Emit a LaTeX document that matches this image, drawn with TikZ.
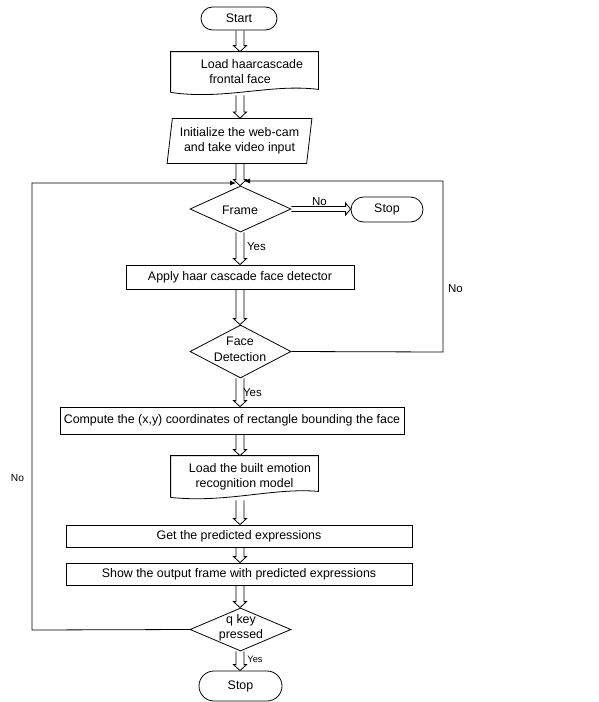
\documentclass[tikz,border=0pt]{standalone}
\usepackage{fontspec}
\setmainfont{Liberation Sans}
\usetikzlibrary{shapes.geometric,shapes.misc,calc,arrows.meta}

\begin{document}
\begin{tikzpicture}[x=1pt,y=-1pt,line width=0.8pt,
    font=\fontsize{12.4}{15}\selectfont,
    term/.style={rounded rectangle,draw,minimum height=23pt,inner sep=0pt},
    proc/.style={rectangle,draw,inner sep=0pt},
    doc/.style={rectangle,inner sep=0pt,align=center,minimum width=147pt},
    io/.style={trapezium,draw,trapezium left angle=80,trapezium right angle=100,
      trapezium stretches=true,minimum width=145pt,minimum height=45pt,align=center,inner sep=0pt},
    dec/.style={diamond,draw,minimum width=101pt,inner sep=0pt},
    lbl/.style={inner sep=0pt,font=\fontsize{11.5}{13}\selectfont},
    hollow/.style={to path={let \p1=(\tikztostart), \p2=(\tikztotarget) in
      (\x1-4pt,\y1) -- (\x1-4pt,\y2+6pt) -- (\x1-6.5pt,\y2+6pt) -- (\x1,\y2)
      -- (\x1+6.5pt,\y2+6pt) -- (\x1+4pt,\y2+6pt) -- (\x1+4pt,\y1)}},
    hollowr/.style={to path={let \p1=(\tikztostart), \p2=(\tikztotarget) in
      (\x1,\y1+2.5pt) -- (\x2-5pt,\y1+2.5pt) -- (\x2-5pt,\y1+6pt) -- (\x2,\y1)
      -- (\x2-5pt,\y1-6pt) -- (\x2-5pt,\y1-2.5pt) -- (\x1,\y1-2.5pt)}}]
  \useasboundingbox (0,0) rectangle (599,702);
  \coordinate (col) at (240,0);

  % boxes
  \node[term,minimum width=76pt] (start) at (239,18.5) {Start};
  \node[doc,minimum height=40pt] (load) at (244.5,72) {\hspace*{15pt}Load haarcascade\\frontal face\hspace*{9pt}};
  \draw (load.south west) -- (load.north west) -- (load.north east) -- ([yshift=3pt]load.south east)
    .. controls +(-48,-6) and +(54,8) .. (load.south west);
  \node[io] (init) at (239.5,141) {Initialize the web-cam\\and take video input};
  \node[dec,minimum height=46pt] (frame) at (240.5,209) {};
  \node (frtxt) at (240,210) {Frame};
  \node[term,minimum width=72pt,minimum height=25pt] (stopa) at (387,209.5) {Stop};
  \node[proc,minimum width=228pt,minimum height=24pt] (apply) at (240,277) {Apply haar cascade face detector};
  \node[dec,minimum height=53pt] (face) at (240.5,351.5) {};
  \node[align=center,font=\fontsize{12.4}{16}\selectfont] (factxt) at (240,349) {Face\\Detection};
  \node[proc,minimum width=344pt,minimum height=27pt] (comp) at (232,420.5) {Compute the (x,y) coordinates of rectangle bounding the face};
  \node[doc,minimum height=41pt] (model) at (244.5,476.5) {\hspace*{11pt}Load the built emotion\\recognition model};
  \draw (model.south west) -- (model.north west) -- (model.north east) -- ([yshift=6pt]model.south east)
    .. controls +(-45,-4) and +(55,6) .. (model.south west);
  \node[proc,minimum width=346pt,minimum height=22pt] (pred) at (239,536) {Get the predicted expressions};
  \node[proc,minimum width=346pt,minimum height=22pt] (show) at (239,574) {Show the output frame with predicted expressions};
  \node[dec,minimum height=43pt] (qkey) at (240.5,629.5) {};
  \node[align=center] (qtxt) at (241,628) {q key\\pressed};
  \node[term,minimum width=83pt,minimum height=30pt] (stopb) at (240.5,686) {Stop};

  % hollow arrows
  \draw (start.south -| col) to[hollow] (load.north -| col);
  \draw ([yshift=-3pt]load.south -| col) to[hollow] (init.north -| col);
  \draw (init.south -| col) to[hollow] (frame.north -| col);
  \draw (frame.south -| col) to[hollow] (apply.north -| col);
  \draw (frame.east) to[hollowr] (stopa.west);
  \draw (apply.south -| col) to[hollow] (face.north -| col);
  \draw (face.south -| col) to[hollow] (comp.north -| col);
  \draw (comp.south -| col) to[hollow] (model.north -| col);
  \draw ([yshift=-3pt]model.south -| col) to[hollow] (pred.north -| col);
  \draw (pred.south -| col) to[hollow] (show.north -| col);
  \draw (show.south -| col) to[hollow] (qkey.north -| col);
  \draw (qkey.south -| col) to[hollow] (stopb.north -| col);

  % loops back
  \coordinate (jl) at (236,183);
  \coordinate (jr) at (244,181);
  \coordinate (lx) at (32,630);
  \coordinate (rx) at (443,352);
  \draw[-{Latex[length=6pt,width=5pt]}] (qkey.west) -- (lx) |- (jl);
  \draw[-{Latex[length=6pt,width=5pt]}] (face.east) -- (rx) |- (jr);

  % labels
  \node[lbl] (noa) at (319.5,202) {No};
  \node[lbl] (yesa) at (256.5,247) {Yes};
  \node[lbl] (nob) at (455.5,289) {No};
  \node[lbl] (yesb) at (252.5,393) {Yes};
  \node[lbl,font=\fontsize{10.2}{12}\selectfont] (noc) at (17.5,478) {No};
  \node[lbl,font=\fontsize{9.3}{11}\selectfont] (yesc) at (255,659) {Yes};
\end{tikzpicture}
\end{document}
